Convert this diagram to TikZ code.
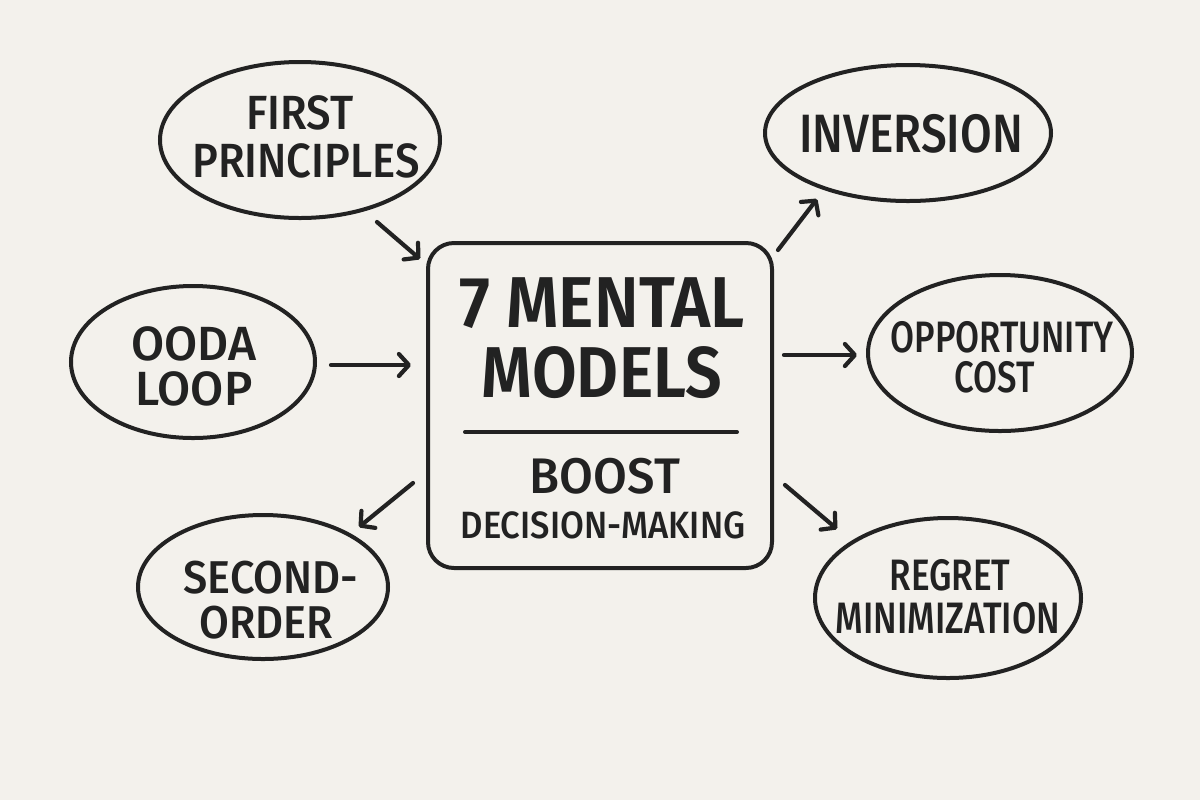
\documentclass[tikz,border=0pt]{standalone}
\usepackage{fontspec}
\setmainfont{Fira Sans}[UprightFont={* Medium}, BoldFont={* SemiBold}]
\usetikzlibrary{shapes.geometric,arrows.meta}
\definecolor{paper}{HTML}{F3F1EC}
\definecolor{ink}{HTML}{222222}
\newcommand{\fs}[2]{\fontsize{#1}{#1}\selectfont\addfontfeature{FakeStretch=#2}}
\tikzset{
  oval/.style={ellipse, draw=ink, line width=2pt, inner sep=0pt},
  lbl/.style={text=ink, anchor=base, inner sep=0pt},
  arr/.style={draw=ink, line width=2.1pt, line cap=round, -{Straight Barb[length=5pt,width=11pt,round]}},
}
\begin{document}
\begin{tikzpicture}[x=0.5pt,y=-0.5pt]
\fill[paper] (0,0) rectangle (1200,800);
\useasboundingbox (0,0) rectangle (1200,800);
% center box
\node[draw=ink, line width=2pt, rounded corners=13pt, minimum width=172pt, minimum height=162.5pt] (box) at (600,405.5) {};
\node[lbl, font=\bfseries\fs{36}{0.93}] (t1) at (602,327) {7 MENTAL};
\node[lbl, font=\bfseries\fs{36}{0.9}] (t2) at (602,397) {MODELS};
\draw[ink, line width=2pt, line cap=round] (465,432) coordinate (d1) -- (737,432) coordinate (d2);
\node[lbl, font=\fs{25}{0.98}] (s1) at (605,493) {BOOST};
\node[lbl, font=\fs{19}{0.91}] (s2) at (603,538) {DECISION-MAKING};
% ellipses
\node[oval, minimum width=140pt, minimum height=78pt] (fp) at (300,140) {};
\node[oval, minimum width=122pt, minimum height=76pt] (ooda) at (193,362) {};
\node[oval, minimum width=125pt, minimum height=72pt] (so) at (263,587) {};
\node[oval, minimum width=143pt, minimum height=68pt] (inv) at (908,133) {};
\node[oval, minimum width=132pt, minimum height=78pt] (opp) at (1000,353) {};
\node[oval, minimum width=133pt, minimum height=80pt] (reg) at (948,598) {};
% ellipse texts
\node[lbl, font=\fs{24}{0.91}] (fp1) at (300,129) {FIRST};
\node[lbl, font=\fs{24}{0.91}] (fp2) at (306,177) {PRINCIPLES};
\node[lbl, font=\fs{24}{1.0}] (oo1) at (194,360) {OODA};
\node[lbl, font=\fs{24}{1.0}] (oo2) at (194,405) {LOOP};
\node[lbl, font=\fs{23}{0.94}] (so1) at (271,593) {SECOND-};
\node[lbl, font=\fs{23}{0.94}] (so2) at (266,638) {ORDER};
\node[lbl, font=\fs{27}{0.85}] (inv1) at (911,152) {INVERSION};
\node[lbl, font=\fs{22}{0.79}] (op1) at (1002,352) {OPPORTUNITY};
\node[lbl, font=\fs{22}{0.79}] (op2) at (995,392) {COST};
\node[lbl, font=\fs{22}{0.8}] (rg1) at (950,590) {REGRET};
\node[lbl, font=\fs{22}{0.8}] (rg2) at (948,633) {MINIMIZATION};
% arrow ends
\coordinate (a1s) at (377,222); \coordinate (a1e) at (420,259);
\coordinate (a2s) at (331,365); \coordinate (a2e) at (411,365);
\coordinate (a3s) at (413,483); \coordinate (a3e) at (359,527);
\coordinate (a4s) at (778,250); \coordinate (a4e) at (817,199);
\coordinate (a5s) at (784,355); \coordinate (a5e) at (857,355);
\coordinate (a6s) at (785,485); \coordinate (a6e) at (837,529);
\draw[arr] (a1s) -- (a1e);
\draw[arr] (a2s) -- (a2e);
\draw[arr] (a3s) -- (a3e);
\draw[arr] (a4s) -- (a4e);
\draw[arr] (a5s) -- (a5e);
\draw[arr] (a6s) -- (a6e);
\end{tikzpicture}
\end{document}
